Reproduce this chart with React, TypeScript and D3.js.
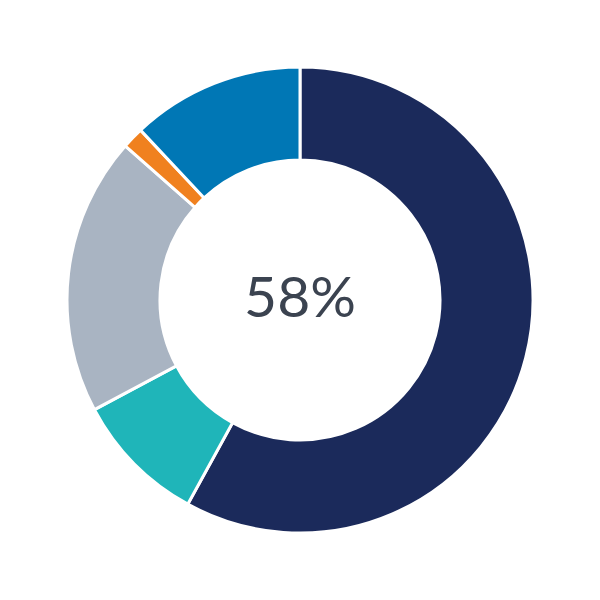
import React from "react";
import * as d3 from "d3";

const categories = ["A", "B", "C", "D", "E"];
const values = [58, 9.2, 19.3, 1.5, 12];
const colors = ["#1b2a5b", "#1fb5b9", "#a9b4c2", "#f0811f", "#0077b5"];
const centerLabel = "58%";

export default function App() {
  const width = 600;
  const height = 600;
  const cx = 300;
  const cy = 300;
  const outerR = 233;
  const innerR = 140;
  const data = categories.map((c, i) => ({ c, v: values[i], color: colors[i] }));
  const pie = d3.pie<any>().value((d: any) => d.v).sort(null);
  const arc = d3.arc<any>().innerRadius(innerR).outerRadius(outerR);
  const arcs = pie(data);
  return (
    <svg width={width} height={height} style={{ position: "absolute", left: 0, top: 0, background: "#fff" }}>
      <g transform={`translate(${cx},${cy})`}>
        {arcs.map((a: any, i: number) => (
          <path key={i} d={arc(a) as string} fill={a.data.color} stroke="#fff" strokeWidth={3} />
        ))}
        <text
          x={0}
          y={-3}
          dy="0.35em"
          textAnchor="middle"
          fontFamily="Lato"
          fontSize={57}
          fill="#3b4350"
        >
          {centerLabel}
        </text>
      </g>
    </svg>
  );
}
